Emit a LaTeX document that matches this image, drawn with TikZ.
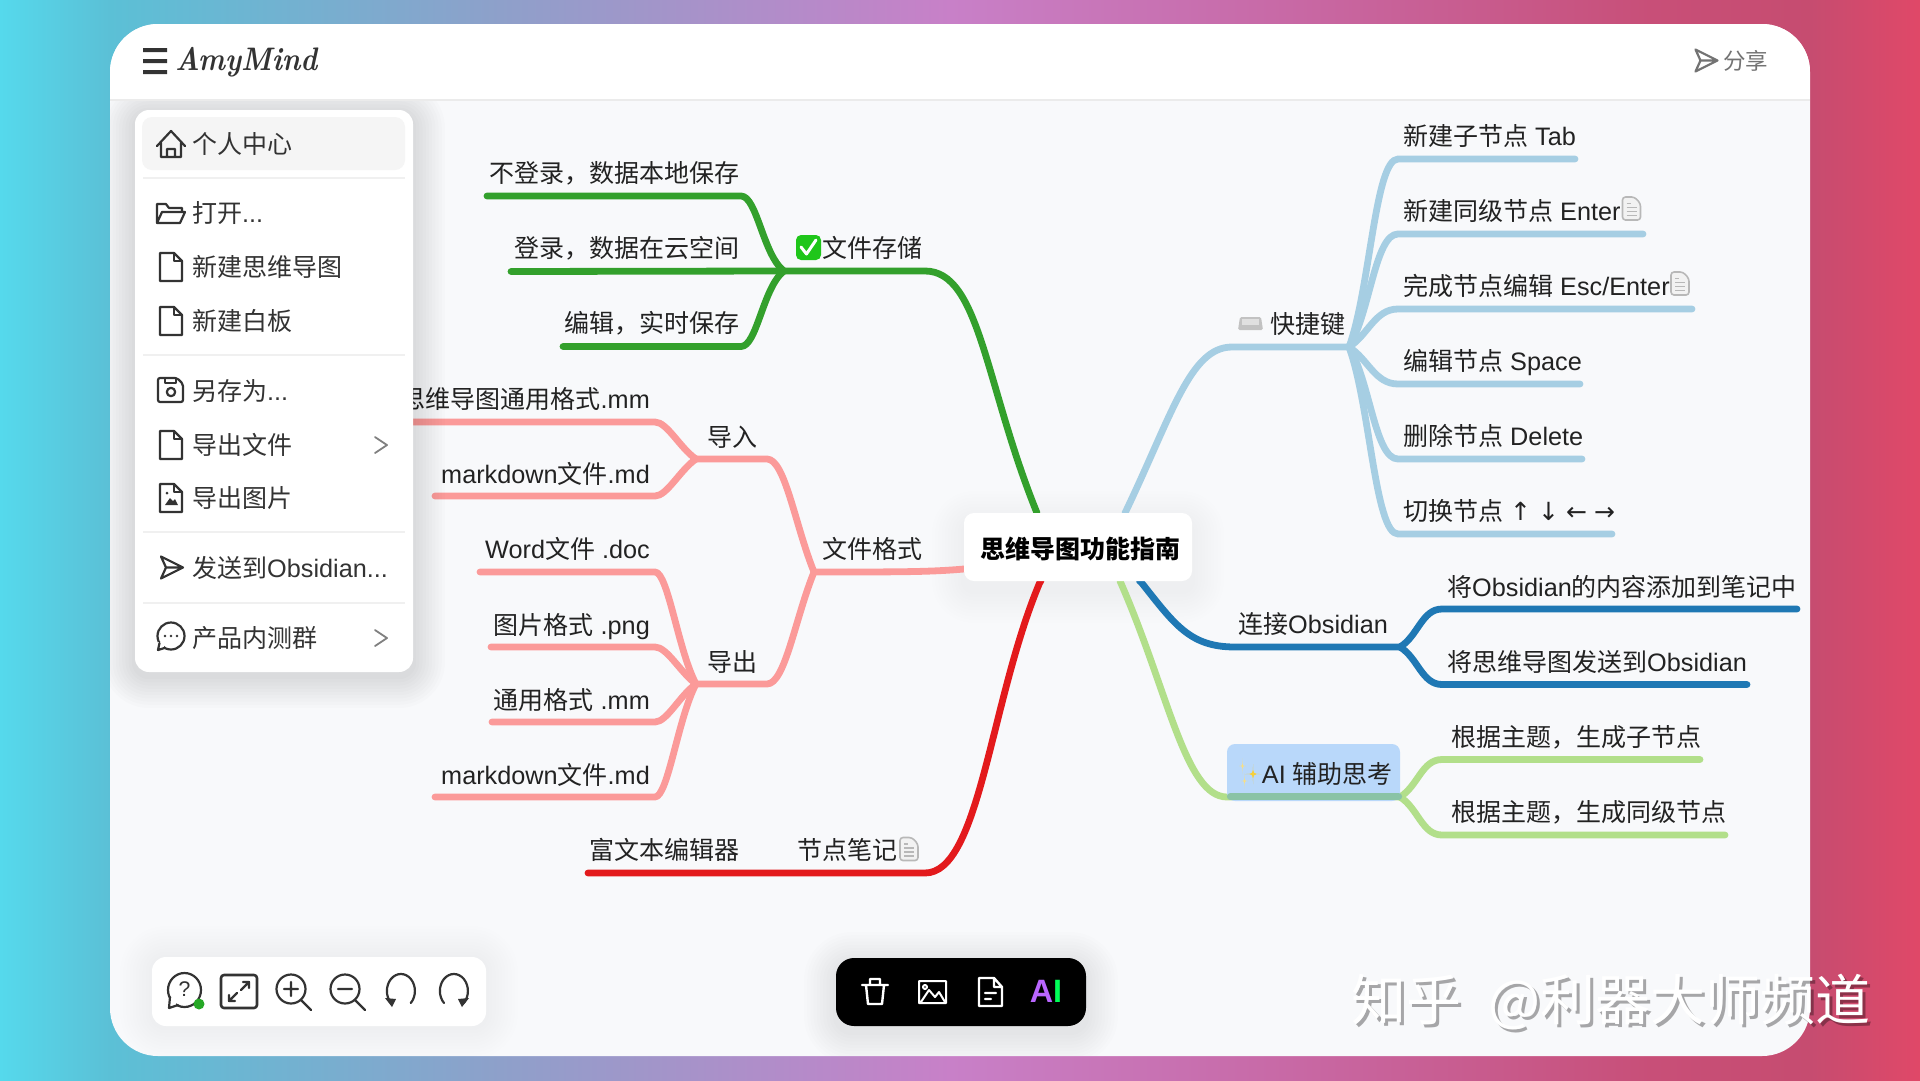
\documentclass[tikz,border=0pt]{standalone}
\usepackage{fontspec}
\usetikzlibrary{calc}
\newfontfamily\cjk{Noto Sans CJK SC}
\newfontfamily\liberation[Scale=1.01]{Liberation Sans}
\newfontfamily\dejavu{DejaVu Sans}
\newcommand\latn[1]{{\liberation #1}}
\definecolor{cg}{HTML}{33A02C}
\definecolor{cp}{HTML}{FB9A99}
\definecolor{cr}{HTML}{E31A1C}
\definecolor{clb}{HTML}{A6CEE3}
\definecolor{cb}{HTML}{1F78B4}
\definecolor{clg}{HTML}{B2DF8A}
\definecolor{aiov}{HTML}{8AC3A6}
\definecolor{aibox}{HTML}{B9D8FA}
\definecolor{canvas}{HTML}{F8F9FB}
\definecolor{ink}{HTML}{222222}
\definecolor{icon}{HTML}{333333}
\definecolor{bg0}{HTML}{55D9EC}
\definecolor{bg1}{HTML}{5BC0D6}
\definecolor{bg2}{HTML}{8EA0CA}
\definecolor{bg3}{HTML}{C880C8}
\definecolor{bg4}{HTML}{C868A4}
\definecolor{bg5}{HTML}{C84F78}
\definecolor{bg6}{HTML}{C64C70}
\definecolor{bg7}{HTML}{E04868}
\definecolor{spk}{HTML}{F6CF3A}
\definecolor{spkb}{HTML}{F7DF86}
\pgfdeclarehorizontalshading{bggrad}{100bp}{color(0bp)=(bg0); color(25bp)=(bg0); color(27.86bp)=(bg1); color(38.02bp)=(bg2); color(49.74bp)=(bg3); color(58.85bp)=(bg4); color(67.97bp)=(bg5); color(72.14bp)=(bg6); color(75bp)=(bg7); color(100bp)=(bg7)}
\pgfdeclarelayer{backl}
\pgfdeclarelayer{connl}
\pgfsetlayers{backl,connl,main}
\tikzset{
  x=1pt,y=-1pt,
  lbl/.style={inner sep=0pt,text=ink,font=\cjk\fontsize{25}{30}\selectfont,text height=22pt,text depth=3pt},
  menulbl/.style={lbl,anchor=west,text=icon},
  conn/.style={line width=6.8pt,line cap=round,line join=round,draw=#1},
  ico/.style={draw=icon,line width=2.2pt,line join=round,line cap=round},
  wico/.style={draw=white,line width=2.4pt,line join=round,line cap=round},
  divider/.style={draw=black!6,line width=1.2pt},
}
\newcommand\softshadow[7]{% x1 y1 x2 y2 radius dy opacity
  \foreach \k in {1,...,10}{
    \pgfmathsetmacro\sp{\k*3.2}
    \pgfmathsetmacro\rr{#5+\sp}
    \fill[black,opacity=#7,rounded corners=\rr pt] ($(#1,#2)+(-\sp,-\sp+#6)$) rectangle ($(#3,#4)+(\sp,\sp+#6)$);
  }}
\newcommand\fileicon[2]{%
  \begin{scope}[shift={(#1,#2)}]
  \draw[ico] (-11,-14) -- (3,-14) -- (11,-6) -- (11,14) -- (-11,14) -- cycle;
  \draw[ico] (3,-14) -- (3,-6) -- (11,-6);
  \end{scope}}
\newcommand\noteicon[2]{%
  \begin{scope}[shift={(#1,#2)}]
  \draw[draw=black!28,fill=black!5,line width=1.6pt,rounded corners=3pt] (-9,-11.5) -- (3,-11.5) -- (9,-5) -- (9,11.5) -- (-9,11.5) -- cycle;
  \draw[draw=black!28,line width=1.4pt] (-5,-1) -- (5,-1) (-5,3) -- (5,3) (-5,7) -- (5,7) (-5,-5) -- (-1,-5);
  \end{scope}}
\newcommand\sparkle[5]{% x y rx ry colour
  \fill[#5,shift={(#1,#2)}] (0,-#4) .. controls (0,0) .. (#3,0) .. controls (0,0) .. (0,#4) .. controls (0,0) .. (-#3,0) .. controls (0,0) .. cycle;}
\newcommand\plane[3]{% x y colour
  \begin{scope}[shift={(#1,#2)}]
  \draw[ico,draw=#3] (-11,-11) -- (11,0) -- (-11,11) -- (-6,0) -- cycle (-6,0) -- (11,0);
  \end{scope}}
\begin{document}
\begin{tikzpicture}
\useasboundingbox (0,0) rectangle (1920,1080);
% ---- background, card
\begin{pgfonlayer}{backl}
\path[shading=bggrad] (0,0) rectangle (1920,1080);
\fill[canvas,rounded corners=48pt] (110,24) rectangle (1810,1056);
\begin{scope}
  \clip[rounded corners=48pt] (110,24) rectangle (1810,1056);
  \fill[white] (110,24) rectangle (1810,99);
  \draw[black!8,line width=1.2pt] (110,100) -- (1810,100);
  \softshadow{964}{513}{1192}{581}{10}{10}{0.0055}
\end{scope}
\end{pgfonlayer}
% ---- header
\fill[icon] (143,48) rectangle (167,52) (143,59) rectangle (167,63) (143,70) rectangle (167,74);
\node[inner sep=0pt,anchor=west,text=icon] (logo) at (175,62) {\scalebox{0.92}[1.05]{\fontsize{31}{36}\selectfont\rmfamily\bfseries\itshape AmyMind}};
\plane{1706.5}{60.5}{black!55}
\node[lbl,anchor=west,text=black!55,font=\cjk\fontsize{22.5}{28}\selectfont,text height=20pt,text depth=2.7pt] (share) at (1723,61) {分享};
% ---- root
\node[fill=white,rounded corners=10pt,minimum width=228pt,minimum height=68pt,inner sep=0pt] (rootbox) at (1078,547) {};
\node[lbl,text=black,font=\cjk\bfseries\fontsize{25}{30}\selectfont] (root) at (1080,549) {思维导图功能指南};
% ---- first level labels
\node[lbl,anchor=west] (fstore) at (822,248) {文件存储};
\node[lbl] (fmt) at (872,549) {文件格式};
\node[lbl] (imp) at (732,437) {导入};
\node[lbl] (exp) at (732,662) {导出};
\node[lbl,anchor=east] (notes) at (898,850) {节点笔记};
\node[lbl,anchor=west] (keys) at (1270,324) {快捷键};
\node[lbl,anchor=west] (obs) at (1238,624) {连接\latn{Obsidian}};
\node[fill=aibox,rounded corners=8pt,minimum width=173pt,minimum height=57pt,inner sep=0pt] (aib) at (1313.5,772.5) {};
\node[lbl,anchor=east] (ai) at (1393,774) {\latn{AI }辅助思考};
% ---- leaves left
\node[lbl,anchor=east] (g1) at (740,173) {不登录，数据本地保存};
\node[lbl,anchor=east] (g2) at (740,248) {登录，数据在云空间};
\node[lbl,anchor=east] (g3) at (740,323) {编辑，实时保存};
\node[lbl,anchor=east] (p1) at (650,399) {思维导图通用格式\latn{.mm}};
\node[lbl,anchor=east] (p2) at (650,474) {\latn{markdown}文件\latn{.md}};
\node[lbl,anchor=east] (p3) at (650,549) {\latn{Word}文件\latn{ .doc}};
\node[lbl,anchor=east] (p4) at (650,624.5) {图片格式\latn{ .png}};
\node[lbl,anchor=east] (p5) at (650,699.5) {通用格式\latn{ .mm}};
\node[lbl,anchor=east] (p6) at (650,774.5) {\latn{markdown}文件\latn{.md}};
\node[lbl,anchor=east] (r1) at (740,850) {富文本编辑器};
% ---- leaves right
\node[lbl,anchor=west] (k1) at (1403,136) {新建子节点\latn{ Tab}};
\node[lbl,anchor=west] (k2) at (1403,211) {新建同级节点\latn{ Enter}};
\node[lbl,anchor=west] (k3) at (1403,286) {完成节点编辑\latn{ Esc/Enter}};
\node[lbl,anchor=west] (k4) at (1403,361) {编辑节点\latn{ Space}};
\node[lbl,anchor=west] (k5) at (1403,436) {删除节点\latn{ Delete}};
\node[lbl,anchor=west] (k6) at (1403,511) {切换节点\latn{ }{\dejavu ↑}\latn{ }{\dejavu ↓}\latn{ }{\dejavu ←}\latn{ }{\dejavu →}};
\node[lbl,anchor=west] (b1) at (1447,586.5) {将\latn{Obsidian}的内容添加到笔记中};
\node[lbl,anchor=west] (b2) at (1447,661.5) {将思维导图发送到\latn{Obsidian}};
\node[lbl,anchor=west] (l1) at (1451,737) {根据主题，生成子节点};
\node[lbl,anchor=west] (l2) at (1451,812) {根据主题，生成同级节点};
% ---- small icons in the map
\fill[fill=cg!60!green,rounded corners=5pt] (796,235) rectangle (821,260);
\draw[white,line width=3pt,line cap=round,line join=round] (801,247) -- (806.5,254) -- (816,240);
\fill[black!24,rounded corners=1.5pt] (1240,317) -- (1261,317) -- (1263,330) -- (1238,330) -- cycle;
\fill[black!12] (1242,319) rectangle (1259,325);
\sparkle{1253}{774}{8.5}{10}{spk}
\sparkle{1242.5}{766}{3.5}{8}{spkb}
\sparkle{1244.5}{781}{3.5}{8}{spkb}
\noteicon{1631.5}{208.5}
\noteicon{1680}{283.5}
\noteicon{909}{849}
% ---- connectors
\coordinate (gx) at (1037,513);
\coordinate (gj) at (784,271);
\coordinate (gh) at (925,271);
\coordinate (ga1) at (741,196); \coordinate (ge1) at (487,196);
\coordinate (ge2) at (511,271.5);
\coordinate (ga3) at (741,346.5); \coordinate (ge3) at (563,346.5);
\coordinate (pj) at (814,572);
\coordinate (px) at (964,569);
\coordinate (pj1) at (696,459);
\coordinate (pj2) at (696,684);
\coordinate (ph1) at (767,459);
\coordinate (ph2) at (767,684);
\coordinate (pa1) at (655,422); \coordinate (pe1) at (400,422);
\coordinate (pa2) at (655,496); \coordinate (pe2) at (435,496);
\coordinate (pa3) at (655,572); \coordinate (pe3) at (480,572);
\coordinate (pa4) at (655,647); \coordinate (pe4) at (491,647);
\coordinate (pa5) at (655,722); \coordinate (pe5) at (492,722);
\coordinate (pa6) at (655,797); \coordinate (pe6) at (435,797);
\coordinate (rx) at (1040,582);
\coordinate (rh) at (925,873);
\coordinate (re) at (588,873);
\coordinate (kx) at (1125,513);
\coordinate (kh) at (1232,347);
\coordinate (kj) at (1349,347);
\coordinate (ka1) at (1398,159); \coordinate (ke1) at (1575,159);
\coordinate (ka2) at (1398,234); \coordinate (ke2) at (1643,234);
\coordinate (ka3) at (1398,309); \coordinate (ke3) at (1692,309);
\coordinate (ka4) at (1398,384); \coordinate (ke4) at (1580,384);
\coordinate (ka5) at (1398,459); \coordinate (ke5) at (1582,459);
\coordinate (ka6) at (1398,534); \coordinate (ke6) at (1612,534);
\coordinate (bx) at (1141,582);
\coordinate (bh) at (1235,647);
\coordinate (bj) at (1400,647);
\coordinate (ba1) at (1442,609); \coordinate (be1) at (1797,609);
\coordinate (ba2) at (1442,684.5); \coordinate (be2) at (1747,684.5);
\coordinate (lx) at (1120,581);
\coordinate (lh) at (1227,797);
\coordinate (lj) at (1400,797);
\coordinate (la1) at (1442,759.5); \coordinate (le1) at (1700,759.5);
\coordinate (la2) at (1442,835); \coordinate (le2) at (1725,835);
\begin{pgfonlayer}{connl}
% green
\draw[conn=cg] (rootbox) -- (gx) .. controls (985,385) and (980,271) .. (gh) -- (gj);
\draw[conn=cg] (gj) .. controls (763,255) and (757,196) .. (ga1) -- (ge1);
\draw[conn=cg] (gj) -- (ge2);
\draw[conn=cg] (gj) .. controls (763,287) and (757,346.5) .. (ga3) -- (ge3);
% pink
\draw[conn=cp] (rootbox) -- (px) .. controls (930,572) and (900,572) .. (pj);
\draw[conn=cp] (pj) .. controls (795,525) and (785,459) .. (ph1) -- (pj1);
\draw[conn=cp] (pj) .. controls (795,619) and (785,684) .. (ph2) -- (pj2);
\draw[conn=cp] (pj1) .. controls (680,448) and (667,422) .. (pa1) -- (pe1);
\draw[conn=cp] (pj1) .. controls (680,470) and (667,496) .. (pa2) -- (pe2);
\draw[conn=cp] (pj2) .. controls (678,650) and (668,572) .. (pa3) -- (pe3);
\draw[conn=cp] (pj2) .. controls (680,672) and (667,647) .. (pa4) -- (pe4);
\draw[conn=cp] (pj2) .. controls (680,695) and (667,722) .. (pa5) -- (pe5);
\draw[conn=cp] (pj2) .. controls (678,718) and (668,797) .. (pa6) -- (pe6);
% red
\draw[conn=cr] (rootbox) -- (rx) .. controls (990,700) and (980,873) .. (rh) -- (re);
% light blue
\draw[conn=clb] (rootbox) -- (kx) .. controls (1172,415) and (1190,347) .. (kh) -- (kj);
\draw[conn=clb] (kj) .. controls (1370,290) and (1375,159) .. (ka1) -- (ke1);
\draw[conn=clb] (kj) .. controls (1370,313) and (1375,234) .. (ka2) -- (ke2);
\draw[conn=clb] (kj) .. controls (1368,335) and (1375,309) .. (ka3) -- (ke3);
\draw[conn=clb] (kj) .. controls (1368,359) and (1375,384) .. (ka4) -- (ke4);
\draw[conn=clb] (kj) .. controls (1370,381) and (1375,459) .. (ka5) -- (ke5);
\draw[conn=clb] (kj) .. controls (1370,404) and (1375,534) .. (ka6) -- (ke6);
% blue
\draw[conn=cb] (rootbox) -- (bx) .. controls (1175,625) and (1190,647) .. (bh) -- (bj);
\draw[conn=cb] (bj) .. controls (1418,636) and (1422,609) .. (ba1) -- (be1);
\draw[conn=cb] (bj) .. controls (1418,658) and (1422,684.5) .. (ba2) -- (be2);
% light green
\draw[conn=clg] (rootbox) -- (lx) .. controls (1168,690) and (1185,797) .. (lh) -- (lj);
\draw[conn=clg] (lj) .. controls (1418,786) and (1422,759.5) .. (la1) -- (le1);
\draw[conn=clg] (lj) .. controls (1418,808) and (1422,835) .. (la2) -- (le2);
\end{pgfonlayer}
\draw[aiov,line width=6.8pt,line cap=round] ($(aib.south west)+(3.5,-4.5)$) -- ($(aib.south east)+(-1.5,-4.5)$);
% ---- menu
\begin{scope}
  \clip (110,101) rectangle (1810,1056);
  \softshadow{135}{110}{413}{672}{14}{4}{0.011}
\end{scope}
\fill[white,rounded corners=14pt] (135,110) rectangle (413,672);
\fill[black!4,rounded corners=10pt] (142,117) rectangle (405,170);
\draw[divider] (143,178) -- (405,178);
\draw[divider] (143,355) -- (405,355);
\draw[divider] (143,532) -- (405,532);
\draw[divider] (143,603) -- (405,603);
\node[menulbl] (m1) at (192,144) {个人中心};
\node[menulbl] (m2) at (192,213) {打开\latn{...}};
\node[menulbl] (m3) at (192,267) {新建思维导图};
\node[menulbl] (m4) at (192,321) {新建白板};
\node[menulbl] (m5) at (192,391) {另存为\latn{...}};
\node[menulbl] (m6) at (192,444.5) {导出文件};
\node[menulbl] (m7) at (192,498) {导出图片};
\node[menulbl] (m8) at (192,567.5) {发送到\latn{Obsidian...}};
\node[menulbl] (m9) at (192,637.5) {产品内测群};
% menu icons
\draw[ico] (157,146) -- (171,131) -- (185,146) (161,143) -- (161,157) -- (181,157) -- (181,143) (167,157) -- (167,149) -- (175,149) -- (175,157);
\draw[ico] (157,223) -- (157,204) -- (166,204) -- (169,208) -- (182,208) -- (182,212) (157,223) -- (180,223) -- (185,212) -- (162,212) -- cycle;
\fileicon{171}{267}
\fileicon{171}{321}
\draw[ico,rounded corners=2pt] (158,378) -- (177,378) -- (183,384) -- (183,402) -- (158,402) -- cycle;
\draw[ico] (171,392) circle[radius=4.2pt];
\draw[ico,line width=1.8pt] (165,378) -- (165,383) -- (176,383) -- (176,378);
\fileicon{171}{445}
\fileicon{171}{498}
\fill[icon] (165,505) -- (170,498) -- (173,501) -- (175,499) -- (178,505) -- cycle;
\fill[icon] (167,493) circle[radius=1.5pt];
\plane{172}{567.5}{icon}
\draw[ico] (171,636) circle[radius=13.5pt];
\fill[white] (158,642) rectangle (164,651);
\draw[ico] (159.5,643) -- (158,650) -- (164.5,648);
\fill[icon] (165,636) circle[radius=1.3pt] (171,636) circle[radius=1.3pt] (177,636) circle[radius=1.3pt];
\draw[black!50,line width=1.8pt,line cap=round,line join=round] (375,437) -- (387,445) -- (375,453);
\draw[black!50,line width=1.8pt,line cap=round,line join=round] (375,630) -- (387,638) -- (375,646);
% ---- bottom-left toolbar
\begin{scope}
  \clip[rounded corners=48pt] (110,24) rectangle (1810,1056);
  \softshadow{152}{957}{486}{1026}{14}{1}{0.0025}
\end{scope}
\fill[white,rounded corners=14pt] (152,957) rectangle (486,1026);
\draw[ico] (184.5,990) circle[x radius=16.5pt,y radius=17pt];
\fill[white] (167,998) rectangle (176,1010);
\draw[ico] (170,997) -- (169,1008) -- (178,1005);
\node[inner sep=0pt,text=icon,font=\liberation\fontsize{21}{24}\selectfont] (help) at (184.5,989) {?};
\fill[green!60!black!85] (199,1004) circle[radius=5.5pt];
\draw[ico,line width=2.6pt,rounded corners=3pt] (221,975) rectangle (257,1008);
\draw[ico] (241,990) -- (249,982) (243,982) -- (249,982) -- (249,988) (237,993) -- (229,1001) (229,995) -- (229,1001) -- (235,1001);
\draw[ico] (291,989) circle[radius=14.5pt] (301,1000) -- (311,1010) (291,982) -- (291,996) (284,989) -- (298,989);
\draw[ico] (345,989) circle[radius=14.5pt] (355,1000) -- (365,1010) (338,989) -- (352,989);
\draw[ico] (391,1003) arc[start angle=225,end angle=-45,x radius=14pt,y radius=17pt];
\fill[icon] (385,998) -- (396,999) -- (392,1007) -- cycle;
\draw[ico] (444,1003) arc[start angle=225,end angle=-45,x radius=14pt,y radius=17pt];
\fill[icon] (469,998) -- (458,999) -- (462,1007) -- cycle;
% ---- bottom-centre toolbar
\begin{scope}
  \clip[rounded corners=48pt] (110,24) rectangle (1810,1056);
  \softshadow{836}{958}{1086}{1026}{16}{6}{0.006}
\end{scope}
\fill[black,rounded corners=18pt] (836,958) rectangle (1086,1026);
\draw[wico] (862,985) -- (888,985) (870,985) -- (870,979) -- (880,979) -- (880,985) (866,985) -- (868,1004) -- (882,1004) -- (884,985);
\draw[wico,line width=2pt] (919,981) rectangle (946,1003) (921,1002) -- (929,990) -- (935,997) -- (939,992) -- (945,1002) (925,987) circle[radius=2pt];
\draw[wico] (979,978) -- (994,978) -- (1002,987) -- (1002,1006) -- (979,1006) -- cycle (994,978) -- (994,987) -- (1002,987) (985,993) -- (996,993) (985,999) -- (991,999);
\node[inner sep=0pt,font=\liberation\bfseries\fontsize{32}{36}\selectfont] (aitool) at (1046,991) {\textcolor{blue!45!magenta!60}{A}\textcolor{green!65!cyan}{I}};
% ---- watermark
\node[inner sep=0pt,anchor=west,text=black,opacity=0.33,font=\cjk\fontsize{55}{60}\selectfont] (wms) at (1354,1005) {知乎\hspace{15pt} @利器大师频道};
\node[inner sep=0pt,anchor=west,text=white,font=\cjk\fontsize{55}{60}\selectfont] (wm) at (1351,1002) {知乎\hspace{15pt} @利器大师频道};
\end{tikzpicture}
\end{document}
